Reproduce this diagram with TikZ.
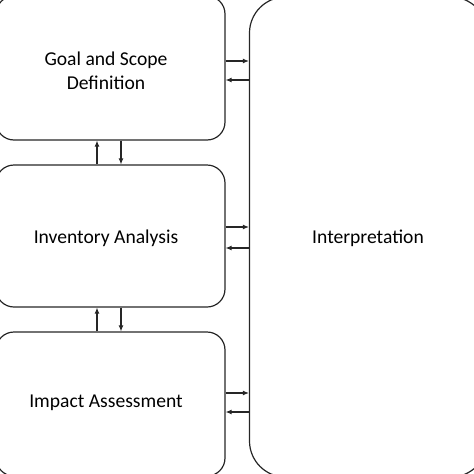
\documentclass[tikz,border=0pt]{standalone}
\usepackage{fontspec}
\setmainfont{Carlito}
\usetikzlibrary{arrows.meta}
\tikzset{
  box/.style={draw=black!85, line width=1.2pt, rounded corners=18pt, align=center,
    inner sep=0pt, font=\fontsize{19.6}{24}\selectfont},
  bigbox/.style={box, rounded corners=36pt},
  arr/.style={draw=black!85, line width=1.1pt, -{Latex[length=6pt,width=5pt]}}
}
\begin{document}
\begin{tikzpicture}[x=1pt,y=1pt]
\useasboundingbox (0,0) rectangle (474,-474);
\clip (0,0) rectangle (474,-474);
\node[box, minimum width=229pt, minimum height=144pt] (goal) at (110.5,-68) {};
\node[box, minimum width=229pt, minimum height=142pt] (inv) at (110.5,-236) {};
\node[box, minimum width=229pt, minimum height=144pt] (imp) at (110.5,-404) {};
\node[bigbox, minimum width=237.5pt, minimum height=480pt] (interp) at (368.25,-237) {};
\node[font=\fontsize{19.6}{24}\selectfont, align=center] (goalt) at (106,-71) {Goal and Scope\\Definition};
\node[font=\fontsize{19.6}{24}\selectfont] (invt) at (106,-238) {Inventory Analysis};
\node[font=\fontsize{19.6}{24}\selectfont] (impt) at (106,-403) {Impact Assessment};
\node[font=\fontsize{19.6}{24}\selectfont] (interpt) at (368,-238) {Interpretation};
% horizontal arrows
\draw[arr] (goal.east |- 0,-61) -- (interp.west |- 0,-61);
\draw[arr] (interp.west |- 0,-80) -- (goal.east |- 0,-80);
\draw[arr] (inv.east |- 0,-227) -- (interp.west |- 0,-227);
\draw[arr] (interp.west |- 0,-248) -- (inv.east |- 0,-248);
\draw[arr] (imp.east |- 0,-393) -- (interp.west |- 0,-393);
\draw[arr] (interp.west |- 0,-412) -- (imp.east |- 0,-412);
% vertical arrows
\draw[arr] (inv.north -| 97,0) -- (goal.south -| 97,0);
\draw[arr] (goal.south -| 121,0) -- (inv.north -| 121,0);
\draw[arr] (imp.north -| 97,0) -- (inv.south -| 97,0);
\draw[arr] (inv.south -| 121,0) -- (imp.north -| 121,0);
\end{tikzpicture}
\end{document}
